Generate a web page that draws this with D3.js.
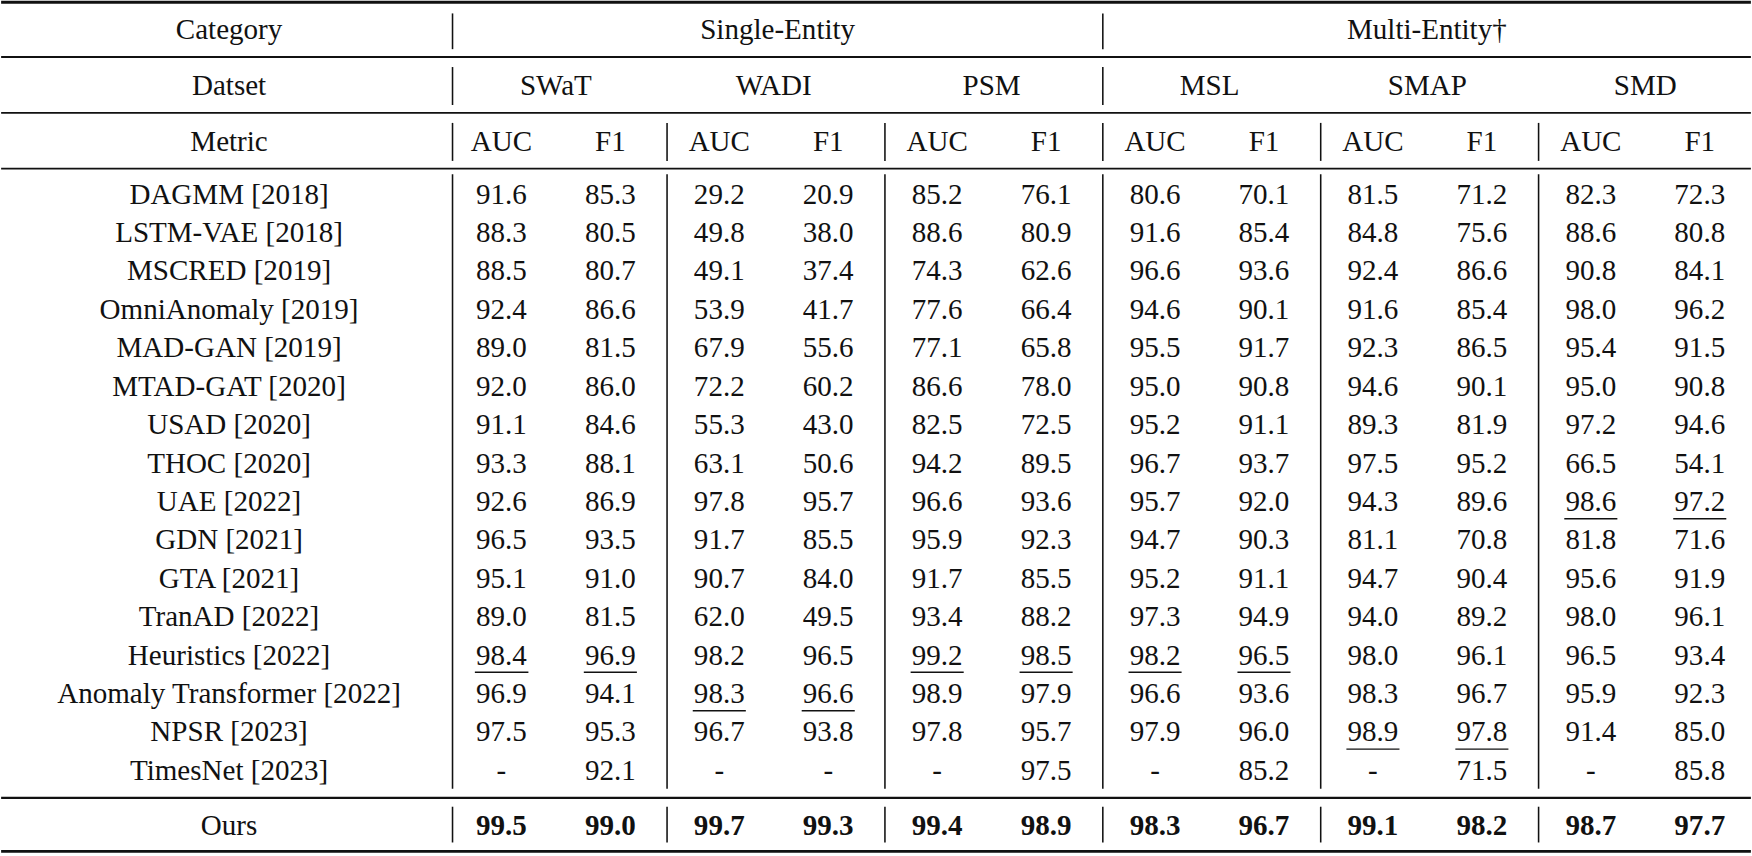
<!DOCTYPE html>
<html><head><meta charset="utf-8">
<script src="https://cdn.jsdelivr.net/npm/d3@7"></script>
<style>
body{margin:0;background:#fff;}
text{font-family:"Liberation Serif","DejaVu Serif",serif;font-size:26px;fill:#111;}
line{stroke:#111;}
</style></head><body>
<svg id="chart" width="1752" height="856"></svg>
<script>
const categories = ["Single-Entity", "Multi-Entity\u2020"];
const datasets = ["SWaT", "WADI", "PSM", "MSL", "SMAP", "SMD"];
const metrics = ["AUC", "F1"];
const methods = ["DAGMM [2018]", "LSTM-VAE [2018]", "MSCRED  [2019]", "OmniAnomaly  [2019]",
  "MAD-GAN  [2019]", "MTAD-GAT [2020]", "USAD [2020]", "THOC [2020]", "UAE [2022]", "GDN [2021]",
  "GTA [2021]", "TranAD [2022]", "Heuristics  [2022]", "Anomaly Transformer [2022]", "NPSR [2023]", "TimesNet [2023]"];
const values = [
  ["91.6","85.3","29.2","20.9","85.2","76.1","80.6","70.1","81.5","71.2","82.3","72.3"],
  ["88.3","80.5","49.8","38.0","88.6","80.9","91.6","85.4","84.8","75.6","88.6","80.8"],
  ["88.5","80.7","49.1","37.4","74.3","62.6","96.6","93.6","92.4","86.6","90.8","84.1"],
  ["92.4","86.6","53.9","41.7","77.6","66.4","94.6","90.1","91.6","85.4","98.0","96.2"],
  ["89.0","81.5","67.9","55.6","77.1","65.8","95.5","91.7","92.3","86.5","95.4","91.5"],
  ["92.0","86.0","72.2","60.2","86.6","78.0","95.0","90.8","94.6","90.1","95.0","90.8"],
  ["91.1","84.6","55.3","43.0","82.5","72.5","95.2","91.1","89.3","81.9","97.2","94.6"],
  ["93.3","88.1","63.1","50.6","94.2","89.5","96.7","93.7","97.5","95.2","66.5","54.1"],
  ["92.6","86.9","97.8","95.7","96.6","93.6","95.7","92.0","94.3","89.6","98.6","97.2"],
  ["96.5","93.5","91.7","85.5","95.9","92.3","94.7","90.3","81.1","70.8","81.8","71.6"],
  ["95.1","91.0","90.7","84.0","91.7","85.5","95.2","91.1","94.7","90.4","95.6","91.9"],
  ["89.0","81.5","62.0","49.5","93.4","88.2","97.3","94.9","94.0","89.2","98.0","96.1"],
  ["98.4","96.9","98.2","96.5","99.2","98.5","98.2","96.5","98.0","96.1","96.5","93.4"],
  ["96.9","94.1","98.3","96.6","98.9","97.9","96.6","93.6","98.3","96.7","95.9","92.3"],
  ["97.5","95.3","96.7","93.8","97.8","95.7","97.9","96.0","98.9","97.8","91.4","85.0"],
  ["-","92.1","-","-","-","97.5","-","85.2","-","71.5","-","85.8"]
];
// [row, col] of underlined (second best) cells
const underlined = [[12,0],[12,1],[12,4],[12,5],[12,6],[12,7],[13,2],[13,3],[14,8],[14,9],[8,10],[8,11]];
const oursName = "Ours";
const oursValues = ["99.5","99.0","99.7","99.3","99.4","98.9","98.3","96.7","99.1","98.2","98.7","97.7"];

// layout was measured on a 1568-wide copy, so scale up to the page
const svg = d3.select("#chart").append("g").attr("transform", `scale(${1752 / 1568})`);
const cols = d3.range(12);
const x = d3.scaleBand().domain(cols).range([400, 1570]);
const cx = c => x(c) + x.bandwidth() / 2;
const y = d3.scaleBand().domain(d3.range(methods.length)).range([156, 706]);
const cy = r => y(r) + y.bandwidth() / 2;
const labelX = 205, leftX = 1, rightX = 1567;
const pairBars = d3.range(7).map(g => g === 0 ? 405 : x(g * 2) + 2);

function hline(yy, w) {
  svg.append("line").attr("x1", leftX).attr("x2", rightX).attr("y1", yy).attr("y2", yy).attr("stroke-width", w);
}
function vbar(xx, y1, y2) {
  svg.append("line").attr("x1", xx).attr("x2", xx).attr("y1", y1).attr("y2", y2).attr("stroke-width", 1.4);
}
function txt(t, xx, yy, bold) {
  return svg.append("text").attr("x", xx).attr("y", yy).attr("dy", "0.35em")
    .attr("text-anchor", "middle").attr("font-weight", bold ? "bold" : null).text(t);
}

hline(2, 2.6); hline(51, 1.6); hline(101, 1.6); hline(151, 1.6); hline(714, 2); hline(762, 2.6);

// header row 1
txt("Category", labelX, 26);
txt(categories[0], (pairBars[0] + pairBars[3]) / 2, 26);
txt(categories[1], (pairBars[3] + rightX) / 2, 26);
vbar(pairBars[0], 12, 44); vbar(pairBars[3], 12, 44);
// header row 2
txt("Datset", labelX, 76);
datasets.forEach((d, g) => txt(d, (cx(g * 2) + cx(g * 2 + 1)) / 2, 76));
vbar(pairBars[0], 60, 94); vbar(pairBars[3], 60, 94);
// header row 3
txt("Metric", labelX, 126);
cols.forEach(c => txt(metrics[c % 2], cx(c), 126));
pairBars.slice(0, 6).forEach(b => vbar(b, 110, 144));

// body
methods.forEach((m, r) => {
  txt(m, labelX, cy(r));
  values[r].forEach((v, c) => txt(v, cx(c), cy(r)));
});
pairBars.slice(0, 6).forEach(b => vbar(b, 156, 706));
underlined.forEach(([r, c]) => {
  const t = svg.selectAll("text").filter(function () {
    return +this.getAttribute("x") === cx(c) && +this.getAttribute("y") === cy(r);
  }).node();
  const bb = t.getBBox();
  svg.append("line").attr("x1", bb.x - 1).attr("x2", bb.x + bb.width + 1)
    .attr("y1", cy(r) + 16).attr("y2", cy(r) + 16).attr("stroke-width", 1.3);
});

// ours
txt(oursName, labelX, 738);
oursValues.forEach((v, c) => txt(v, cx(c), 738, true));
pairBars.slice(0, 6).forEach(b => vbar(b, 722, 754));
</script></body></html>
